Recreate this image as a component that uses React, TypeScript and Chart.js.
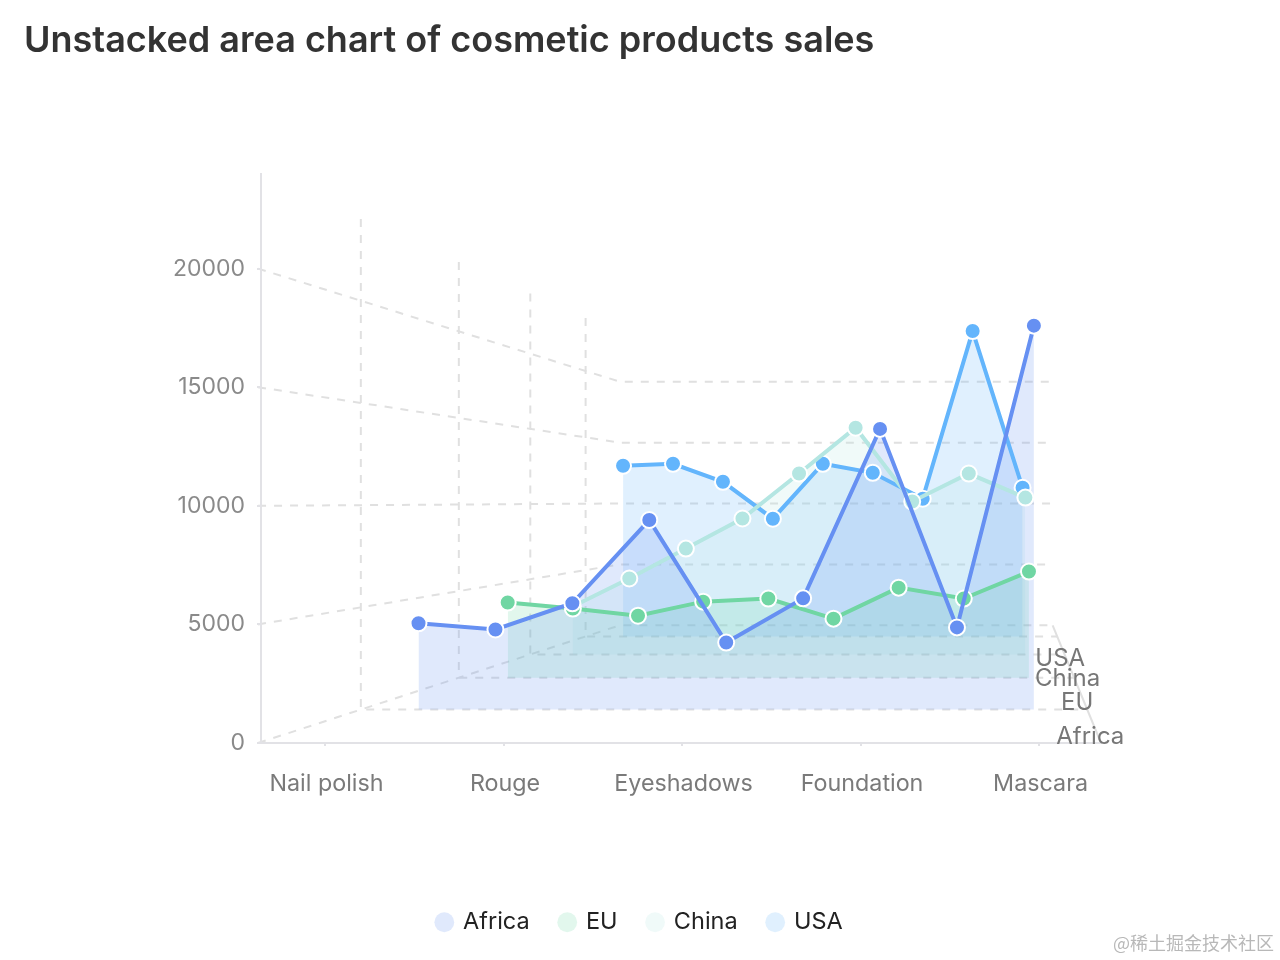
import { useEffect, useRef } from 'react'
import { Chart, registerables } from 'chart.js'

Chart.register(...registerables)

const title = 'Unstacked area chart of cosmetic products sales'
const categories = ['Nail polish', 'Rouge', 'Eyeshadows', 'Foundation', 'Mascara']
const seriesNames = ['Africa', 'EU', 'China', 'USA']
const positions = [0, 0.5, 1, 1.5, 2, 2.5, 3, 3.5, 4]

const africa = [4220, 3920, 5200, 9270, 3280, 5440, 13730, 4020, 18780]
const eu = [4340, 3990, 3580, 4390, 4570, 3410, 5200, 4570, 6130]
const china = [3190, 5050, 7040, 9040, 12030, 15080, 10170, 12030, 10430]
const usa = [12860, 13010, 11650, 8870, 13010, 12330, 10380, 23010, 11200]

const yTicks = [0, 5000, 10000, 15000, 20000]
const colors = ['#6690F2', '#70D6A3', '#B4E6E2', '#63B5FC']
const fills = ['rgba(102,144,242,0.2)', 'rgba(112,214,163,0.2)', 'rgba(180,230,226,0.2)', 'rgba(99,181,252,0.2)']

// perspective: each series sits on a plane shrunk towards the vanishing point
const depths = [0.8618, 0.73, 0.6339, 0.5595]
const backDepth = 0.5133
const vanishX = 3.7905
const vanishY = 10198
const xLeft = -0.375
const xMin = -0.3585
const xMax = 4.347
const yMax = 24000

const projX = (c: number, s: number) => vanishX + s * (c - vanishX)
const projY = (v: number, s: number) => vanishY + s * (v - vanishY)

const gridColor = '#e0e0e0'
const axisColor = '#e2e2e6'

const wallPlugin = {
  id: 'walls',
  beforeDraw(chart: any) {
    const { ctx, scales } = chart
    const px = (c: number) => scales.x.getPixelForValue(c)
    const py = (v: number) => scales.y.getPixelForValue(v)
    const line = (pts: [number, number][]) => {
      ctx.beginPath()
      pts.forEach(([c, v], i) => (i ? ctx.lineTo(px(c), py(v)) : ctx.moveTo(px(c), py(v))))
      ctx.stroke()
    }
    ctx.save()
    ctx.strokeStyle = gridColor
    ctx.lineWidth = 2
    ctx.setLineDash([8, 8])
    yTicks.forEach((t) => {
      line([
        [xLeft, t],
        [projX(xLeft, backDepth), projY(t, backDepth)],
        [projX(xMax, backDepth), projY(t, backDepth)],
      ])
    })
    depths.forEach((s) => {
      line([
        [projX(xLeft, s), projY(yMax, s)],
        [projX(xLeft, s), projY(0, s)],
        [projX(xMax, s), projY(0, s)],
      ])
    })
    ctx.setLineDash([])
    line([
      [projX(xMax, backDepth), projY(0, backDepth)],
      [xMax, 0],
    ])
    ctx.restore()
  },
  afterDatasetsDraw(chart: any) {
    const { ctx, scales } = chart
    ctx.save()
    ctx.fillStyle = '#777777'
    ctx.font = '24px Inter'
    ctx.textAlign = 'center'
    ctx.textBaseline = 'middle'
    depths.forEach((s, i) => {
      const x = scales.x.getPixelForValue(projX(xMax, s)) + 3
      const y = scales.y.getPixelForValue(projY(0, s)) + 15 + 14 * s
      ctx.fillText(seriesNames[i], x, y)
    })
    ctx.restore()
  },
}

export default function App() {
  const canvasRef = useRef<HTMLCanvasElement>(null)

  useEffect(() => {
    if (!canvasRef.current) return
    const values = [africa, eu, china, usa]
    const chart = new Chart(canvasRef.current.getContext('2d')!, {
      type: 'line',
      data: {
        datasets: seriesNames.map((name, i) => ({
          label: name,
          data: positions.map((c, j) => ({ x: projX(c, depths[i]), y: projY(values[i][j], depths[i]) })),
          borderColor: colors[i],
          backgroundColor: fills[i],
          borderWidth: 4,
          tension: 0,
          fill: { value: projY(0, depths[i]) },
          pointRadius: 8,
          pointBackgroundColor: colors[i],
          pointBorderColor: '#ffffff',
          pointBorderWidth: 2,
        })),
      },
      options: {
        responsive: false,
        animation: false,
        layout: { padding: { left: 24, right: 24, top: 0, bottom: 16 } },
        plugins: {
          filler: { drawTime: 'beforeDatasetsDraw' },
          tooltip: { enabled: false },
          title: {
            display: true,
            text: title,
            align: 'start',
            color: '#333333',
            font: { family: 'Inter', size: 36, weight: 600 },
            padding: { top: 20, bottom: 110.5 },
          },
          legend: {
            position: 'bottom',
            labels: {
              usePointStyle: true,
              pointStyle: 'circle',
              boxHeight: 14,
              boxWidth: 14,
              padding: 30.5,
              color: '#222222',
              font: { family: 'Inter', size: 23.5 },
              generateLabels: (c: any) =>
                Chart.defaults.plugins.legend.labels.generateLabels(c).map((l: any, i: number) => ({
                  ...l,
                  fillStyle: fills[i],
                  lineWidth: 0,
                  strokeStyle: 'transparent',
                })),
            },
          },
        },
        scales: {
          x: {
            type: 'linear',
            min: xMin,
            max: xMax,
            grid: { drawOnChartArea: false, drawTicks: true, tickLength: 3, color: axisColor, lineWidth: 2 },
            border: { color: axisColor, width: 2 },
            ticks: {
              stepSize: 1,
              includeBounds: false,
              maxRotation: 0,
              autoSkip: false,
              padding: 24,
              labelOffset: 1.5,
              color: '#7a7a7a',
              font: { family: 'Inter', size: 23.3 },
              callback: (v: any) => categories[v] ?? '',
            },
            afterFit: (s: any) => {
              s.height = 137
            },
          },
          y: {
            min: 0,
            max: yMax,
            grid: { drawOnChartArea: false, tickLength: 4, color: axisColor, lineWidth: 2 },
            border: { color: axisColor, width: 2 },
            ticks: {
              includeBounds: false,
              padding: 12,
              color: '#8a8a8a',
              font: { family: 'Inter', size: 23 },
              callback: (v: any) => String(v),
            },
            afterBuildTicks: (s: any) => {
              s.ticks = yTicks.map((value) => ({ value }))
            },
            afterFit: (s: any) => {
              s.width = 237
            },
          },
          // empty axis, only keeps the plot's right edge away from the legend centring
          side: {
            type: 'linear',
            position: 'right',
            grid: { display: false },
            border: { display: false },
            ticks: { display: false },
            afterFit: (s: any) => {
              s.width = 155
            },
          },
        },
      },
      plugins: [wallPlugin],
    } as any)
    return () => chart.destroy()
  }, [])

  return (
    <div style={{ position: 'absolute', left: 0, top: 0, width: 1280, height: 960 }}>
      <canvas ref={canvasRef} width={1280} height={960} />
      <div style={{ position: 'absolute', right: 6, top: 930, fontFamily: 'Noto Sans CJK SC', fontSize: 18, color: '#b8b8b8', lineHeight: '24px' }}>@稀土掘金技术社区</div>
    </div>
  )
}
